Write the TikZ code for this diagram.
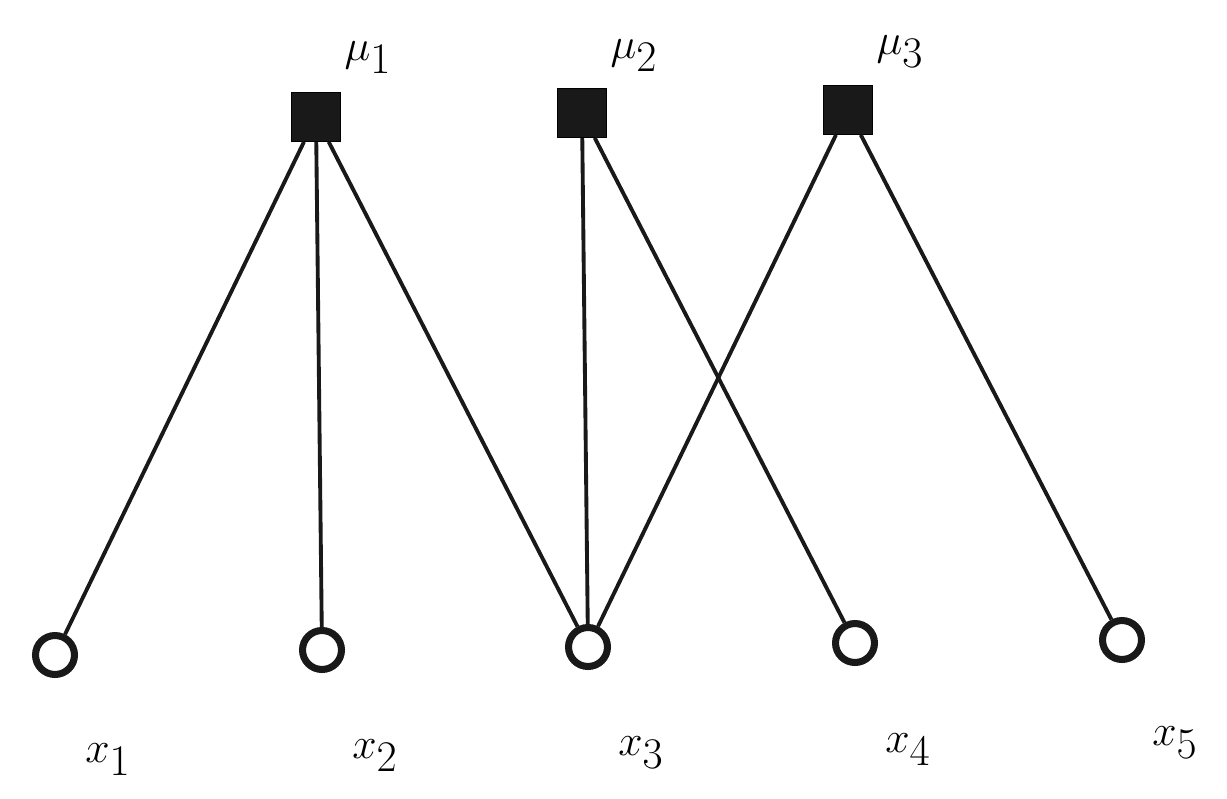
\documentclass[tikz,border=0pt]{standalone}
\begin{document}
\begin{tikzpicture}[x=0.02cm,y=-0.02cm,
  fac/.style={draw=black,fill=black!90,minimum size=0.98cm,inner sep=0pt,shape=rectangle},
  var/.style={draw=black!90,line width=4pt,circle,minimum size=0.78cm,inner sep=0pt,fill=white},
  lbl/.style={font=\fontsize{40}{48}\selectfont},
  edge/.style={line width=2.2pt,black!90}]
\useasboundingbox (0,0) rectangle (1227,798);
\node[fac] (m1) at (316,117) {};
\node[fac] (m2) at (582,113) {};
\node[fac] (m3) at (848,110) {};
\node[var] (x1) at (55,655) {};
\node[var] (x2) at (322,650) {};
\node[var] (x3) at (588,647) {};
\node[var] (x4) at (855,643) {};
\node[var] (x5) at (1122,640) {};
\node[lbl] (l1) at (368,58) {$\mu_1$};
\node[lbl] (l2) at (634,56) {$\mu_2$};
\node[lbl] (l3) at (900,52) {$\mu_3$};
\node[lbl] (t1) at (108,760) {$x_1$};
\node[lbl] (t2) at (375,756) {$x_2$};
\node[lbl] (t3) at (641,753) {$x_3$};
\node[lbl] (t4) at (908,750) {$x_4$};
\node[lbl] (t5) at (1175,743) {$x_5$};
\begin{scope}[on background layer/.style={}]
\draw[edge] (m1) -- (x1);
\draw[edge] (m1) -- (x2);
\draw[edge] (m1) -- (x3);
\draw[edge] (m2) -- (x3);
\draw[edge] (m2) -- (x4);
\draw[edge] (m3) -- (x3);
\draw[edge] (m3) -- (x5);
\end{scope}
\end{tikzpicture}
\end{document}
